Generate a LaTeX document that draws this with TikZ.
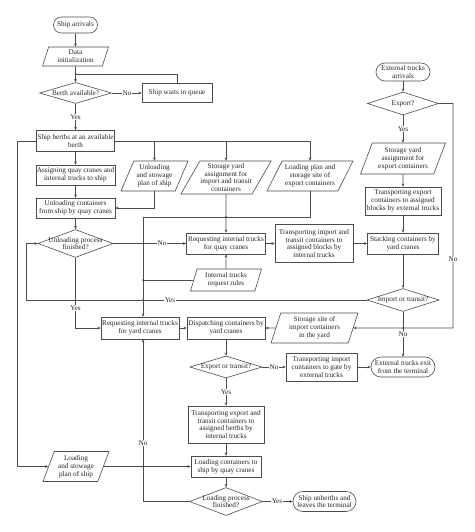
\documentclass[tikz,border=0pt]{standalone}
\usepackage{fontspec}
\setmainfont{Liberation Serif}
\usetikzlibrary{shapes.geometric,arrows.meta}
\begin{document}
\begin{tikzpicture}[x=1pt,y=-1pt,
  every node/.style={font=\fontsize{7.2}{7.8}\selectfont, text=black!85},
  basebox/.style={draw=black!70, line width=0.6pt, align=center, inner xsep=0.5pt, inner ysep=1pt, fill=white},
  procbox/.style={basebox, rectangle},
  termbox/.style={basebox, rectangle, rounded corners=#1},
  iodata/.style={basebox, trapezium, trapezium left angle=#1, trapezium right angle={180-#1}, trapezium stretches body},
  iodata/.default=63,
  decbox/.style={basebox, diamond, inner sep=0pt},
  txtlbl/.style={align=center, inner sep=0pt},
  ynlbl/.style={fill=white, inner sep=0.8pt},
  arr/.style={draw=black!70, line width=0.6pt, -{Stealth[length=3.2pt,width=2.8pt]}},
  ln/.style={draw=black!70, line width=0.6pt},
  sz/.style 2 args={minimum width=#1, minimum height=#2},
]
\useasboundingbox (0,0) rectangle (474,532);

% ---- left column
\node[termbox=7.9pt, sz={44pt}{16pt}] (sa) at (75.5,25) {Ship arrivals};
\node[iodata=67, sz={66pt}{19pt}] (di) at (75.5,56.5) {Data\\initialization};
\node[decbox, sz={72pt}{21pt}] (ba) at (75.5,93) {};
\node[txtlbl] (bat) at (ba) {Berth available?};
\node[procbox, sz={70pt}{19pt}] (sq) at (177,93) {Ship waits in queue};
\node[procbox, sz={78pt}{21pt}] (sb) at (75.5,141) {Ship berths at an available\\berth};
\node[procbox, sz={79pt}{20pt}] (aq) at (75.5,175) {Assigning quay cranes and\\internal trucks to ship};
\node[procbox, sz={79pt}{20pt}] (uc) at (75.5,208) {Unloading containers\\from ship by quay cranes};
\node[decbox, sz={75pt}{28pt}] (uf) at (75.5,243.5) {};
\node[txtlbl] (uft) at (uf) {Unloading process\\finished?};
\node[iodata=65, sz={66pt}{30pt}] (lsp) at (76,466.5) {Loading\\and stowage\\plan of ship};

% ---- upper data nodes
\node[iodata=62, sz={67pt}{30pt}] (us) at (154.5,176) {Unloading\\and stowage\\plan of ship};
\node[iodata=58, sz={86pt}{33pt}] (sy) at (226,177.5) {Storage yard\\assignment for\\import and transit\\containers};
\node[iodata=58, sz={86pt}{30pt}] (lp) at (310,176) {Loading plan and\\storage site of\\export containers};

% ---- middle
\node[procbox, sz={79pt}{21pt}] (rq) at (226,243.5) {Requesting internal trucks\\for quay cranes};
\node[iodata=68, sz={71pt}{22pt}] (ir) at (226,280) {Internal trucks\\request rules};
\node[procbox, sz={78pt}{38pt}] (ti) at (314,243.5) {Transporting import and\\transit containers to\\assigned blocks by\\internal trucks};
\node[procbox, sz={78pt}{22pt}] (ry) at (140,328) {Requesting internal trucks\\for yard cranes};
\node[procbox, sz={78pt}{22pt}] (dc) at (226,328) {Dispatching containers by\\yard cranes};
\node[iodata=68, sz={87pt}{30pt}] (ss) at (314.5,328) {Storage site of\\import containers\\in the yard};
\node[decbox, sz={72pt}{22pt}] (et) at (226,367) {};
\node[txtlbl] (ett) at (et) {Export or transit?};
\node[procbox, sz={71pt}{28pt}] (tig) at (321.5,367) {Transporting import\\containers to gate by\\external trucks};
\node[procbox, sz={76pt}{37pt}] (tet) at (226,424.5) {Transporting export and\\transit containers to\\assigned berths by\\internal trucks};
\node[procbox, sz={70pt}{21pt}] (lc) at (226,466.5) {Loading containers to\\ship by quay cranes};
\node[decbox, sz={73pt}{28pt}] (lf) at (226,501.5) {};
\node[txtlbl] (lft) at (lf) {Loading process\\finished?};
\node[termbox=9.9pt, sz={63pt}{20pt}] (su) at (324.5,501.5) {Ship unberths and\\leaves the terminal};

% ---- right column
\node[termbox=8.9pt, sz={54pt}{18pt}] (eta) at (403,72) {External trucks\\arrivals};
\node[decbox, sz={71pt}{23pt}] (ex) at (403,103.5) {};
\node[txtlbl] (ext) at (ex) {Export?};
\node[iodata=64, sz={85pt}{31pt}] (sye) at (403,158.5) {Storage yard\\assignment for\\export containers};
\node[procbox, sz={76pt}{28pt}] (te) at (403,201) {Transporting export\\containers to assigned\\blocks by external trucks};
\node[procbox, sz={71pt}{21pt}] (st) at (403,243.5) {Stacking containers by\\yard cranes};
\node[decbox, sz={72pt}{23pt}] (it) at (403,300) {};
\node[txtlbl] (itt) at (it) {Import or transit?};
\node[termbox=9.9pt, sz={64pt}{20pt}] (ete) at (403,367) {External trucks exit\\from the terminal};

% ---- coordinates
\coordinate (j0) at (75.5,74);
\coordinate (j3) at (143,217);
\coordinate (b1) at (us.north |- sb.east);
\coordinate (b2) at (sy.north |- sb.east);
\coordinate (b3) at (lp.north |- sb.east);
\coordinate (c1) at (17,141);
\coordinate (c3) at (26,243.5);
\coordinate (c4) at (453,328);

% ---- connectors
\draw[arr] (sa) -- (di);
\draw[arr] (di) -- (ba);
\draw[arr] (ba) -- (sq);
\draw[ln] (sq.north) |- (j0);
\draw[arr] (ba) -- (sb);
\draw[arr] (sb) -- (aq);
\draw[arr] (aq) -- (uc);
\draw[arr] (uc) -- (uf);
\draw[ln] (sb.east) -- (b3);
\draw[arr] (b1) -- (us.north);
\draw[arr] (b2) -- (sy.north);
\draw[arr] (b3) -- (lp.north);
\draw[arr] (sb.west) -- (c1) |- (lsp.west);
\draw[arr] (us.south) |- (uc.east);
\draw[arr] (sy.south) -- (rq.north);
\draw[arr] (lp.south) |- (j3) -- (j3 |- ry.north);
\draw[arr] (uf.east) -- (rq.west);
\draw[arr] (ir.north) -- (rq.south);
\draw[ln] (ir.west) -- (ir.west -| j3);
\draw[arr] (rq) -- (ti);
\draw[arr] (ti) -- (st);
\draw[arr] (eta) -- (ex);
\draw[arr] (ex) -- (sye);
\draw[arr] (sye) -- (te);
\draw[arr] (te) -- (st);
\draw[arr] (st) -- (it);
\draw[arr] (it.west) -| (c3) -- (uf.west);
\draw[arr] (it) -- (ete);
\draw[arr] (ex.east) -| (c4) -- (ss.east);
\draw[arr] (ss.west) -- (dc.east);
\draw[arr] (uf.south) |- (ry.west);
\draw[arr] (ry) -- (dc);
\draw[arr] (dc) -- (et);
\draw[arr] (et) -- (tig);
\draw[arr] (tig) -- (ete);
\draw[arr] (et) -- (tet);
\draw[arr] (tet) -- (lc);
\draw[arr] (lsp.east) -- (lc.west);
\draw[arr] (lc) -- (lf);
\draw[arr] (lf) -- (su);
\draw[arr] (lf.west) -| (ry.south -| j3);

% ---- junction dots
\foreach \p in {(j0), (uf.east -| j3), (uf.south |- it.west), (j3 |- it.west),
  (sy.south |- j3), (it.south |- c4), (j3 |- lsp.east), (ir.west -| j3)}
  \fill[black!70] \p circle (1pt);

% ---- yes/no labels
\node[ynlbl] (l1) at (127,93) {No};
\node[ynlbl] (l2) at (75.5,117) {Yes};
\node[ynlbl] (l3) at (162,243.5) {No};
\node[ynlbl] (l4) at (170,300) {Yes};
\node[ynlbl] (l5) at (75.5,308) {Yes};
\node[ynlbl] (l6) at (403,129) {Yes};
\node[ynlbl] (l7) at (453,259) {No};
\node[ynlbl] (l8) at (403,334) {No};
\node[ynlbl] (l9) at (274,367) {No};
\node[ynlbl] (l10) at (226,392) {Yes};
\node[ynlbl] (l11) at (277,501.5) {Yes};
\node[ynlbl] (l12) at (143,443) {No};
\end{tikzpicture}
\end{document}
